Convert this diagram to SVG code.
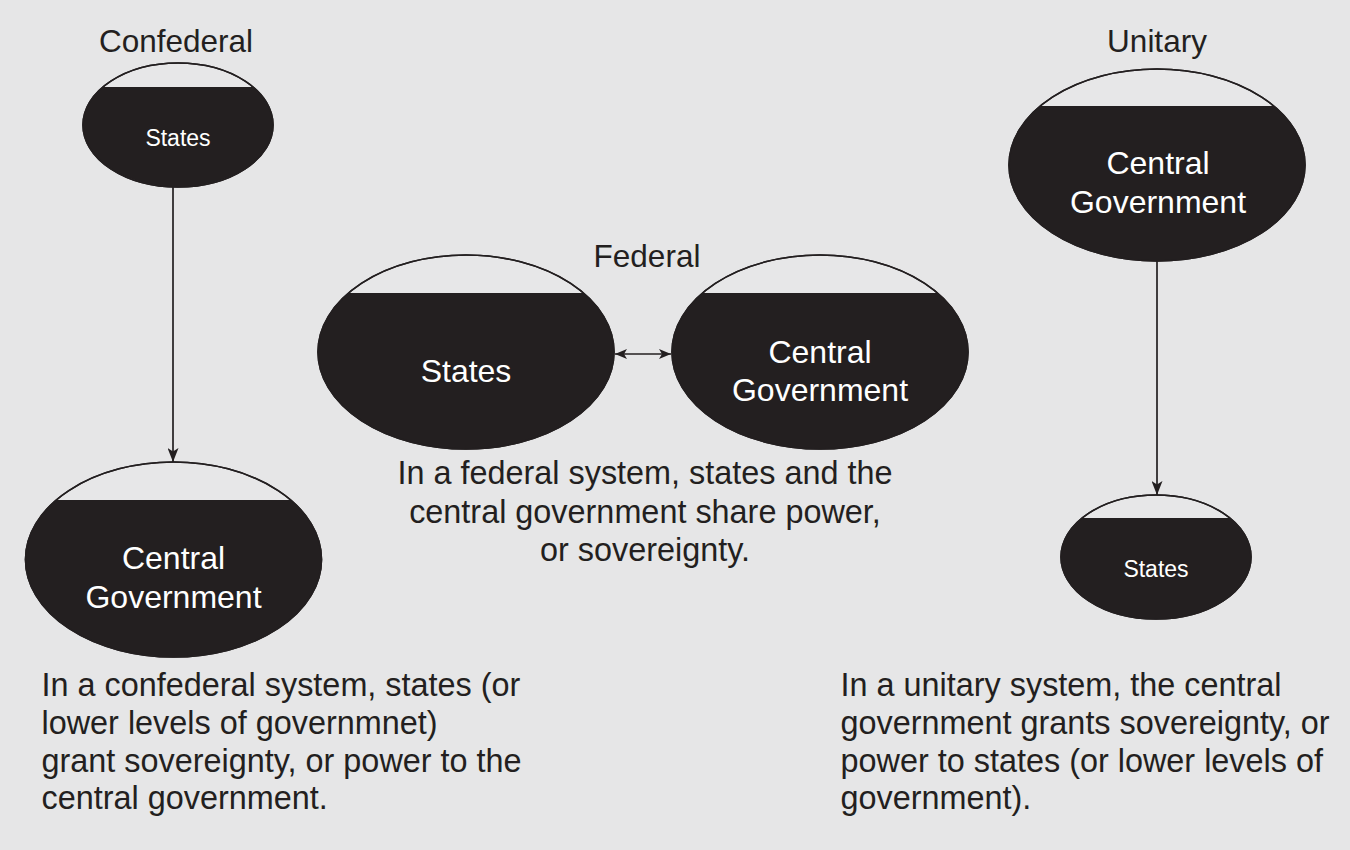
<svg xmlns="http://www.w3.org/2000/svg" width="1350" height="850" viewBox="0 0 1350 850">
<style>
  .bg { fill: #e6e6e7; }
  .cap { fill: #e7e7e8; stroke: #231f20; stroke-width: 1.6; }
  .body { fill: #231f20; }
  .t { font-family: "Liberation Sans", Arial, Helvetica, sans-serif; }
  .title { font-size: 31.5px; fill: #231f20; text-anchor: middle; }
  .big { font-size: 32px; fill: #ffffff; text-anchor: middle; }
  .small { font-size: 23px; fill: #ffffff; text-anchor: middle; }
  .para { font-size: 32.4px; fill: #231f20; }
  .conn { stroke: #231f20; stroke-width: 1.7; fill: none; }
</style>
<defs>
  <marker id="ah" viewBox="0 0 14 11" refX="14" refY="5.5" markerWidth="14" markerHeight="11" markerUnits="userSpaceOnUse" orient="auto-start-reverse">
    <path d="M0,0 L14,5.5 L0,11 L3.5,5.5 Z" fill="#231f20"/>
  </marker>
  <marker id="ahs" viewBox="0 0 12 10" refX="12" refY="5" markerWidth="12" markerHeight="10" markerUnits="userSpaceOnUse" orient="auto-start-reverse">
    <path d="M0,0 L12,5 L0,10 L3,5 Z" fill="#231f20"/>
  </marker>
</defs>
<rect class="bg" x="0" y="0" width="1350" height="850"/>

<g id="titles" class="t">
  <text class="title" x="176" y="52">Confederal</text>
  <text class="title" x="647" y="267">Federal</text>
  <text class="title" x="1157" y="52">Unitary</text>
</g>

<g id="connectors">
  <line class="conn" x1="173" y1="187" x2="173" y2="462" marker-end="url(#ah)"/>
  <line class="conn" x1="1157" y1="261" x2="1157" y2="495" marker-end="url(#ah)"/>
  <line class="conn" x1="615" y1="354" x2="671" y2="354" marker-start="url(#ahs)" marker-end="url(#ahs)"/>
</g>

<g id="conf-states">
  <ellipse class="cap" cx="178" cy="125" rx="95" ry="62"/>
  <path class="body" d="M102.9,87 H253.1 A95,62 0 1 1 102.9,87 Z"/>
  <ellipse cx="178" cy="125" rx="95" ry="62" fill="none" stroke="#231f20" stroke-width="1.6"/>
  <text class="t small" x="178" y="146">States</text>
</g>

<g id="conf-central">
  <ellipse class="cap" cx="173.5" cy="559.5" rx="148" ry="97.5"/>
  <path class="body" d="M56.3,500 H290.7 A148,97.5 0 1 1 56.3,500 Z"/>
  <ellipse cx="173.5" cy="559.5" rx="148" ry="97.5" fill="none" stroke="#231f20" stroke-width="1.6"/>
  <text class="t big" x="173.5" y="569">Central</text>
  <text class="t big" x="173.5" y="608">Government</text>
</g>

<g id="fed-states">
  <ellipse class="cap" cx="466" cy="352" rx="148" ry="97"/>
  <path class="body" d="M348.5,293 H583.5 A148,97 0 1 1 348.5,293 Z"/>
  <ellipse cx="466" cy="352" rx="148" ry="97" fill="none" stroke="#231f20" stroke-width="1.6"/>
  <text class="t big" x="466" y="382">States</text>
</g>

<g id="fed-central">
  <ellipse class="cap" cx="820" cy="352" rx="148" ry="97"/>
  <path class="body" d="M702.5,293 H937.5 A148,97 0 1 1 702.5,293 Z"/>
  <ellipse cx="820" cy="352" rx="148" ry="97" fill="none" stroke="#231f20" stroke-width="1.6"/>
  <text class="t big" x="820" y="363">Central</text>
  <text class="t big" x="820" y="401">Government</text>
</g>

<g id="uni-central">
  <ellipse class="cap" cx="1157" cy="165" rx="148" ry="96"/>
  <path class="body" d="M1040.2,106 H1273.8 A148,96 0 1 1 1040.2,106 Z"/>
  <ellipse cx="1157" cy="165" rx="148" ry="96" fill="none" stroke="#231f20" stroke-width="1.6"/>
  <text class="t big" x="1158" y="174">Central</text>
  <text class="t big" x="1158" y="213">Government</text>
</g>

<g id="uni-states">
  <ellipse class="cap" cx="1156" cy="557" rx="95" ry="62"/>
  <path class="body" d="M1082.2,518 H1229.8 A95,62 0 1 1 1082.2,518 Z"/>
  <ellipse cx="1156" cy="557" rx="95" ry="62" fill="none" stroke="#231f20" stroke-width="1.6"/>
  <text class="t small" x="1156" y="577">States</text>
</g>

<g id="text-confederal" class="t para">
  <text x="41.5" y="696">In a confederal system, states (or</text>
  <text x="41.5" y="734">lower levels of governmnet)</text>
  <text x="41.5" y="772">grant sovereignty, or power to the</text>
  <text x="41.5" y="809">central government.</text>
</g>

<g id="text-federal" class="t para" text-anchor="middle">
  <text x="645" y="484">In a federal system, states and the</text>
  <text x="645" y="523">central government share power,</text>
  <text x="645" y="561">or sovereignty.</text>
</g>

<g id="text-unitary" class="t para">
  <text x="840.5" y="696">In a unitary system, the central</text>
  <text x="840.5" y="734">government grants sovereignty, or</text>
  <text x="840.5" y="772">power to states (or lower levels of</text>
  <text x="840.5" y="809">government).</text>
</g>
</svg>
